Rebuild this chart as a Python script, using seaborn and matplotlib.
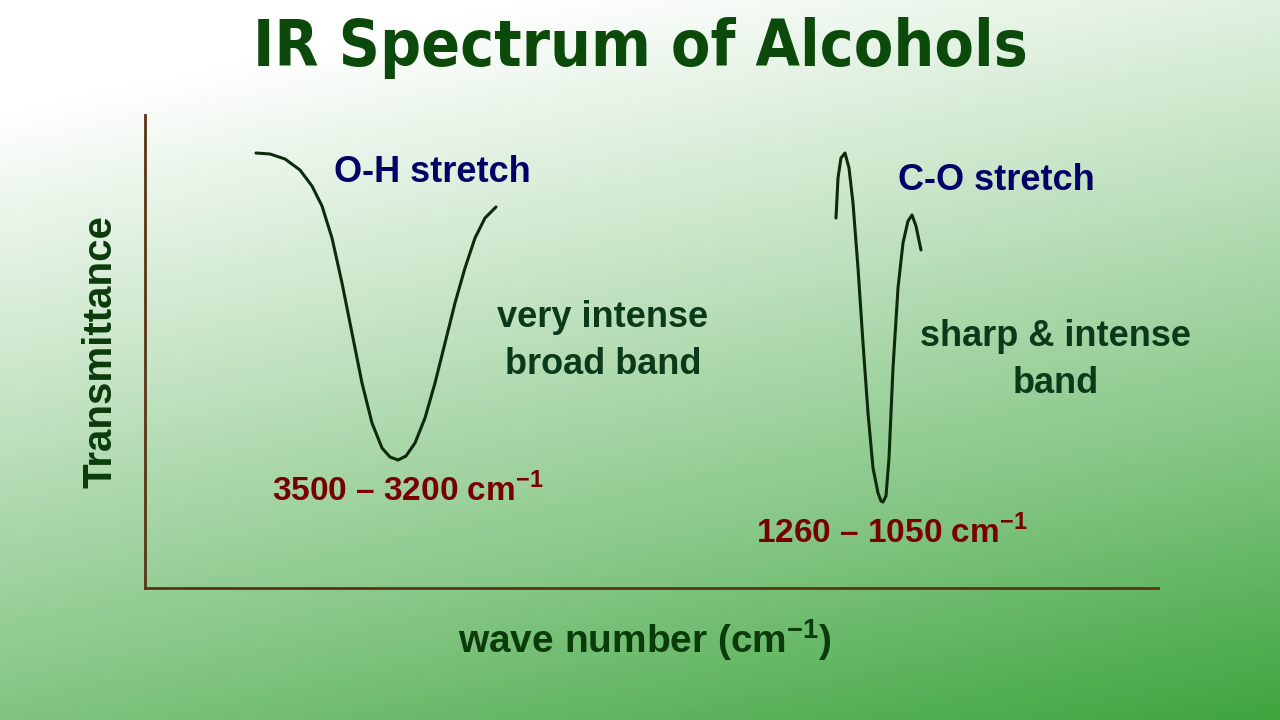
import numpy as np
import pandas as pd
import matplotlib
matplotlib.use("Agg")
import matplotlib.pyplot as plt
import seaborn as sns
from matplotlib.colors import LinearSegmentedColormap

sns.set_theme(style="white")
plt.rcParams['font.family'] = ['Liberation Sans', 'DejaVu Sans']
plt.rcParams['mathtext.fontset'] = 'custom'
plt.rcParams['mathtext.rm'] = 'Liberation Sans:bold'
plt.rcParams['mathtext.bf'] = 'Liberation Sans:bold'

# Schematic band shapes (x position along axis, transmittance height)
oh_x = [256, 270, 285, 300, 312, 322, 332, 342, 352, 362, 372, 382, 390, 398, 406, 415, 425, 435, 445, 455, 465, 475, 485, 496]
oh_y = [435, 434, 429, 418, 402, 382, 350, 305, 255, 205, 165, 140, 131, 128, 132, 145, 170, 205, 245, 285, 320, 350, 370, 381]
co_x = [836, 838, 841, 845, 849, 853, 858, 863, 868, 873, 878, 881, 883, 886, 889, 893, 898, 903, 908, 912, 916, 921]
co_y = [370, 410, 430, 435, 420, 385, 320, 245, 175, 120, 95, 87, 86, 92, 130, 220, 300, 345, 367, 373, 362, 338]

fig = plt.figure(figsize=(12.8, 7.2), dpi=100)

bg = fig.add_axes([0, 0, 1, 1])
yy, xx = np.mgrid[0:1:200j, 0:1:200j]
t = np.clip(0.8 * yy + 0.3 * xx - 0.12, 0, 1)
cmap = LinearSegmentedColormap.from_list("g", ["#ffffff", "#c5e4c5", "#86c786", "#3fa53f"])
bg.imshow(t, cmap=cmap, extent=[0, 1, 0, 1], origin="upper", aspect="auto")
bg.axis("off")

ax = fig.add_axes([145/1280, (720-588)/720, 1013/1280, 473/720])
ax.patch.set_alpha(0)
df1 = pd.DataFrame({"x": oh_x, "y": oh_y})
df2 = pd.DataFrame({"x": co_x, "y": co_y})
sns.lineplot(data=df1, x="x", y="y", ax=ax, color="#0d2a0d", lw=2.2, sort=False)
sns.lineplot(data=df2, x="x", y="y", ax=ax, color="#0d2a0d", lw=2.2, sort=False)
ax.set_xlim(145, 1158)
ax.set_ylim(0, 473)
ax.set_xticks([]); ax.set_yticks([])
ax.set_xlabel(""); ax.set_ylabel("")
for s in ["top", "right"]:
    ax.spines[s].set_visible(False)
for s in ["left", "bottom"]:
    ax.spines[s].set_color("#5a3414")
    ax.spines[s].set_linewidth(2)

def ft(x, y, s, **kw):
    fig.text(x/1280, 1 - y/720, s, ha="center", va="center", fontweight="bold", **kw)

fig.text(640/1280, 1 - 48/720, "IR Spectrum of Alcohols", ha="center", va="center",
         fontweight="bold", fontsize=46, color="#0b4a0b",
         family=["DejaVu Sans"], fontstretch="condensed")
ft(432, 173, "O-H stretch", fontsize=26, color="#000066")
ft(603, 341, "very intense\nbroad band", fontsize=26, color="#0b3a1b", linespacing=1.45)
ft(408, 490, "3500 – 3200 cm$^{-1}$", fontsize=24, color="#780000")
ft(996, 180, "C-O stretch", fontsize=26, color="#000066")
ft(1056, 360, "sharp & intense\nband", fontsize=26, color="#0b3a1b", linespacing=1.45)
ft(892, 532, "1260 – 1050 cm$^{-1}$", fontsize=24, color="#780000")
ft(645, 640, "wave number (cm$^{-1}$)", fontsize=28, color="#0b3a0b")
ft(100, 352, "Transmittance", fontsize=29, color="#0b3a0b", rotation=90)

fig.savefig("out.png", dpi=100)
